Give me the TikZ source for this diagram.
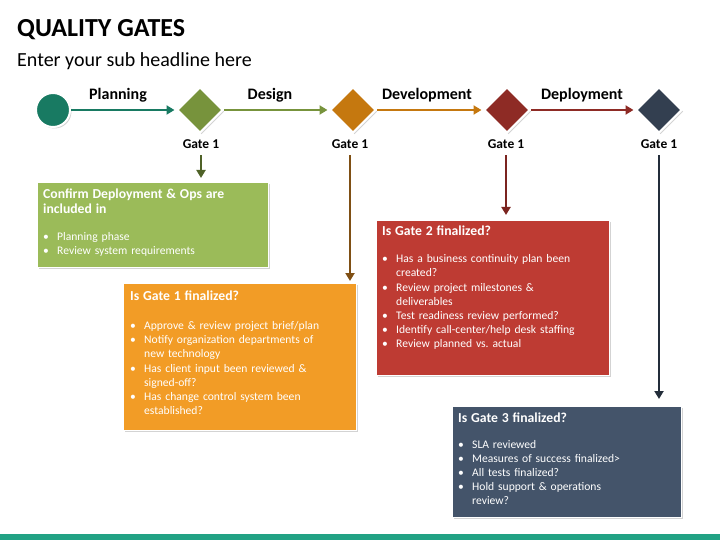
\documentclass[tikz,border=0pt]{standalone}
\usepackage{fontspec}
\setmainfont{Carlito}
\usetikzlibrary{shapes.geometric,positioning,arrows.meta,shadows}
\definecolor{tealc}{HTML}{187A62}
\definecolor{greend}{HTML}{77933C}
\definecolor{greenbox}{HTML}{9BBB59}
\definecolor{greenarr}{HTML}{4F6228}
\definecolor{oranged}{HTML}{C5780F}
\definecolor{orangebox}{HTML}{F29C26}
\definecolor{brownarr}{HTML}{7F4F14}
\definecolor{redd}{HTML}{8E2B25}
\definecolor{redbox}{HTML}{BE3B33}
\definecolor{redarr}{HTML}{7B2420}
\definecolor{navyd}{HTML}{333F50}
\definecolor{navybox}{HTML}{44546A}
\definecolor{navyarr}{HTML}{232D3A}
\definecolor{stripteal}{HTML}{21A284}
\tikzstyle{shade}=[drop shadow={opacity=0.35,shadow xshift=1.5pt,shadow yshift=-1.5pt}]
\tikzstyle{start}=[circle,draw=white,line width=2pt,minimum size=34pt,inner sep=0pt,shade]
\tikzstyle{gate}=[diamond,draw=white,line width=2pt,minimum width=46pt,minimum height=46pt,inner sep=0pt,shade]
\tikzstyle{phase}=[font=\bfseries\fontsize{16}{18}\selectfont]
\tikzstyle{gatename}=[font=\bfseries\fontsize{13.5}{15}\selectfont]
\tikzstyle{flow}=[line width=2.5pt,-{Triangle[length=8pt,width=9pt]}]
\tikzstyle{infobox}=[rectangle,draw=white,line width=1pt,anchor=north west,inner sep=0pt,shade]
\tikzstyle{infotext}=[anchor=north west,inner sep=0pt,text=white,align=left,text width=222pt,font=\fontsize{11.6}{14.2}\selectfont]
\newcommand{\bpoint}[1]{\par\hangindent=14pt\hangafter=1\noindent\makebox[14pt][l]{\textbullet}#1\par}
\newcommand{\boxhead}[1]{{\bfseries\fontsize{13.7}{15}\selectfont #1\par}}
\begin{document}
\begin{tikzpicture}[x=1pt,y=-1pt]
\useasboundingbox (0,0) rectangle (720,540);
% headline
\node[anchor=base west,inner sep=0pt,font=\bfseries\fontsize{26}{30}\selectfont] (title) at (17,37) {QUALITY GATES};
\node[anchor=base west,inner sep=0pt,font=\fontsize{20}{24}\selectfont] (subtitle) at (17,67) {Enter your sub headline here};

% start and gates
\node[start,fill=tealc] (s0) at (53,110) {};
\node[gate,fill=greend] (d1) at (200,110) {};
\node[gate,fill=oranged] (d2) at (353,110) {};
\node[gate,fill=redd] (d3) at (507,110) {};
\node[gate,fill=navyd] (d4) at (659,110) {};

\draw[flow,tealc,shorten >=1.5pt] (s0) -- (d1);
\draw[flow,greend,shorten >=1.5pt] (d1) -- (d2);
\draw[flow,oranged,shorten >=1.5pt] (d2) -- (d3);
\draw[flow,redd,shorten >=1.5pt] (d3) -- (d4);

\node[phase] (p1) at (118,95) {Planning};
\node[phase] (p2) at (270,95) {Design};
\node[phase] (p3) at (427,95) {Development};
\node[phase] (p4) at (582,95) {Deployment};

\node[gatename] (g1) at (201,144) {Gate 1};
\node[gatename] (g2) at (350,144) {Gate 1};
\node[gatename] (g3) at (506,144) {Gate 1};
\node[gatename] (g4) at (659,144) {Gate 1};

% boxes
\node[infobox,fill=greenbox,minimum width=231pt,minimum height=85pt] (b1) at (37,182) {};
\node[infobox,fill=orangebox,minimum width=233pt,minimum height=147pt] (b2) at (123,283) {};
\node[infobox,fill=redbox,minimum width=233pt,minimum height=155pt] (b3) at (376,220) {};
\node[infobox,fill=navybox,minimum width=229pt,minimum height=111pt] (b4) at (452,406) {};

\draw[flow,greenarr,shorten <=3pt,shorten >=4pt] (g1.south) -- (g1.south |- b1.north);
\draw[flow,brownarr,shorten <=3pt,shorten >=2pt] (g2.south) -- (g2.south |- b2.north);
\draw[flow,redarr,shorten <=3pt,shorten >=5pt] (g3.south) -- (g3.south |- b3.north);
\draw[flow,navyarr,shorten <=3pt,shorten >=7pt] (g4.south) -- (g4.south |- b4.north);

\node[infotext] (t1) at ([xshift=6pt,yshift=-6.5pt]b1.north west) {%
  \boxhead{Confirm Deployment \& Ops are\\included in}\vspace{13pt}
  \bpoint{Planning phase}
  \bpoint{Review system requirements}};
\node[infotext] (t2) at ([xshift=7pt,yshift=-7.5pt]b2.north west) {%
  \boxhead{Is Gate 1 finalized?}\vspace{15pt}
  \bpoint{Approve \& review project brief/plan}
  \bpoint{Notify organization departments of\newline new technology}
  \bpoint{Has client input been reviewed \&\newline signed-off?}
  \bpoint{Has change control system been\newline established?}};
\node[infotext] (t3) at ([xshift=6pt,yshift=-6pt]b3.north west) {%
  \boxhead{Is Gate 2 finalized?}\vspace{12.7pt}
  \bpoint{Has a business continuity plan been\newline created?}
  \bpoint{Review project milestones \&\newline deliverables}
  \bpoint{Test readiness review performed?}
  \bpoint{Identify call-center/help desk staffing}
  \bpoint{Review planned vs.\ actual}};
\node[infotext] (t4) at ([xshift=6pt,yshift=-7pt]b4.north west) {%
  \boxhead{Is Gate 3 finalized?}\vspace{11pt}
  \bpoint{SLA reviewed}
  \bpoint{Measures of success finalized>}
  \bpoint{All tests finalized?}
  \bpoint{Hold support \& operations\newline review?}};

% bottom strip
\fill[stripteal] (0,534) rectangle (720,540);
\end{tikzpicture}
\end{document}
